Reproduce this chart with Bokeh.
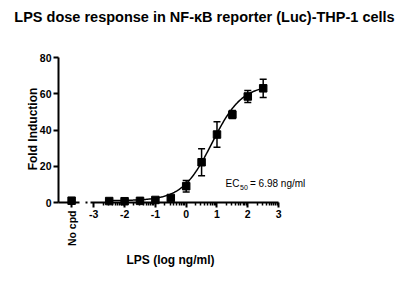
import math
import numpy as np
from bokeh.plotting import figure
from bokeh.models import (Range1d, FixedTicker, Label, Whisker, TeeHead,
                          ColumnDataSource, LinearAxis)
from bokeh.embed import file_html
from bokeh.resources import INLINE

# ---- data ----
log_dose = [-2.5, -2.0, -1.5, -1.0, -0.5, 0.0, 0.5, 1.0, 1.5, 2.0, 2.5]
fold_induction = [0.8, 0.7, 0.9, 1.4, 2.5, 9.0, 22.2, 37.5, 48.5, 58.5, 63.0]
fold_sem = [0.5, 0.4, 0.5, 0.6, 0.8, 3.2, 7.5, 7.0, 2.2, 3.3, 5.0]
no_cpd_value = [1.0]
no_cpd_sem = [0.5]
x_ticks = [-3, -2, -1, 0, 1, 2, 3]
x_tick_labels = ["-3", "-2", "-1", "0", "1", "2", "3"]
y_ticks = [0, 20, 40, 60, 80]
# 4-parameter logistic fit (EC50 = 6.98 ng/ml)
fit_bottom = 1.0
fit_top = 65.0
fit_ec50 = 6.98
fit_hill = 0.9

FONT = "Liberation Sans"
NO_CPD_X = -3.72
X0 = -4.146

p = figure(width=408, height=283, title=None,
           x_range=Range1d(-6.029, 7.218), y_range=Range1d(-44.69, 111.45),
           output_backend="svg", toolbar_location=None, min_border=0)
p.outline_line_color = None
p.xgrid.visible = False
p.ygrid.visible = False
p.background_fill_color = "white"
p.border_fill_color = "white"


def style_axis(ax):
    ax.axis_line_width = 2
    ax.axis_line_color = "black"
    ax.major_tick_line_width = 2
    ax.major_tick_out = 5
    ax.major_tick_in = 0
    ax.major_label_text_font = FONT
    ax.major_label_text_font_style = "bold"
    ax.major_label_text_font_size = "10.5px"
    ax.major_label_text_color = "black"


# y axis
ya = p.yaxis[0]
ya.fixed_location = X0
ya.ticker = FixedTicker(ticks=y_ticks)
ya.bounds = (0, 80)
style_axis(ya)
ya.minor_tick_line_color = None
ya.major_label_standoff = 2

# main x axis (log dose)
minor = []
for d in range(-3, 3):
    for k in range(2, 10):
        minor.append(d + math.log10(k))
xa = p.xaxis[0]
xa.fixed_location = 0
xa.ticker = FixedTicker(ticks=x_ticks, minor_ticks=minor)
xa.bounds = (-3.107, 3.0)
xa.major_label_overrides = {t: s for t, s in zip(x_ticks, x_tick_labels)}
style_axis(xa)
xa.minor_tick_line_width = 1.5
xa.minor_tick_line_color = "black"
xa.minor_tick_out = 3
xa.minor_tick_in = 0
xa.major_label_standoff = 2

# "No cpd" axis segment
nca = LinearAxis(fixed_location=0, bounds=(X0, -3.46),
                 ticker=FixedTicker(ticks=[NO_CPD_X], minor_ticks=[]),
                 major_label_overrides={NO_CPD_X: "No cpd"},
                 major_label_orientation=math.pi / 2,
                 minor_tick_line_color=None, major_label_standoff=3)
style_axis(nca)
p.add_layout(nca, "below")

# axis break dot
dot = LinearAxis(fixed_location=0, bounds=(-3.265, -3.215),
                 ticker=FixedTicker(ticks=[], minor_ticks=[]),
                 major_tick_line_color=None, minor_tick_line_color=None)
style_axis(dot)
dot.major_tick_line_color = None
p.add_layout(dot, "below")

# axis titles
p.add_layout(Label(x=-4.990, y=40.55, text="Fold Induction", angle=math.pi / 2,
                   text_align="center", text_baseline="middle",
                   text_font=FONT, text_font_style="bold", text_font_size="12px",
                   text_color="black"))
p.add_layout(Label(x=-0.510, y=-31.45, text="LPS (log ng/ml)",
                   text_align="center", text_baseline="middle",
                   text_font=FONT, text_font_style="bold", text_font_size="12px",
                   text_color="black"))

# fitted curve
xc = np.linspace(log_dose[0], log_dose[-1], 200)
yc = fit_bottom + (fit_top - fit_bottom) / (1 + 10 ** ((math.log10(fit_ec50) - xc) * fit_hill))
p.line(xc, yc, line_color="black", line_width=1.5)

# error bars + markers
src = ColumnDataSource(data=dict(
    x=log_dose + [NO_CPD_X],
    y=fold_induction + no_cpd_value,
    upper=[v + e for v, e in zip(fold_induction + no_cpd_value, fold_sem + no_cpd_sem)],
    lower=[v - e for v, e in zip(fold_induction + no_cpd_value, fold_sem + no_cpd_sem)],
))
p.add_layout(Whisker(base="x", upper="upper", lower="lower", source=src, dimension="height",
                     line_color="black", line_width=1.5,
                     upper_head=TeeHead(size=7, line_width=1.5, line_color="black"),
                     lower_head=TeeHead(size=7, line_width=1.5, line_color="black")))
p.scatter("x", "y", source=src, marker="square", size=7.5, fill_color="black", line_color="black")

# title
p.add_layout(Label(x=0.594, y=102.1, text="LPS dose response in NF-\u03baB reporter (Luc)-THP-1 cells",
                   text_align="center", text_baseline="middle",
                   text_font=FONT, text_font_style="bold", text_font_size="14.5px",
                   text_color="black"))

# EC50 annotation
p.add_layout(Label(x=1.276, y=10.3, text="EC", text_align="left", text_baseline="middle",
                   text_font=FONT, text_font_size="10px", text_color="black"))
p.add_layout(Label(x=1.747, y=8.5, text="50", text_align="left", text_baseline="middle",
                   text_font=FONT, text_font_size="7px", text_color="black"))
p.add_layout(Label(x=2.071, y=10.3, text="= 6.98 ng/ml", text_align="left", text_baseline="middle",
                   text_font=FONT, text_font_size="10px", text_color="black"))

open("out.html", "w").write(file_html(p, INLINE))
